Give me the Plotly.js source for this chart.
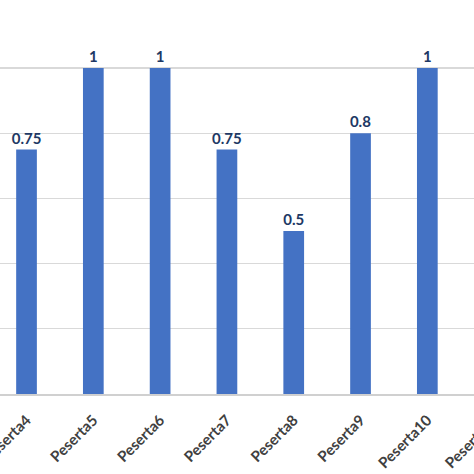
<!DOCTYPE html>
<html>
<head>
<meta charset="utf-8">
<script src="https://cdn.plot.ly/plotly-3.0.1.min.js"></script>
<style>html,body{margin:0;padding:0;background:#fff;overflow:hidden;width:474px;height:474px;}#chart{width:560px;height:474px;}</style>
</head>
<body>
<div id="chart"></div>
<script>
const categories = ["Peserta4","Peserta5","Peserta6","Peserta7","Peserta8","Peserta9","Peserta10","Peserta11"];
const values = [0.75, 1, 1, 0.75, 0.5, 0.8, 1, null];
const gridValues = [0.2, 0.4, 0.6, 0.8, 1.0];

const trace = {
  type: "bar",
  x: categories,
  y: values,
  width: 0.31,
  marker: {color: "#4472C4"},
  text: values.map(v => v === null ? "" : String(v)),
  textposition: "outside",
  constraintext: "none",
  cliponaxis: false,
  textfont: {family: "Lato, 'Open Sans', sans-serif", size: 15, color: "#203864", weight: "bold"},
  hoverinfo: "none"
};

const layout = {
  width: 560, height: 474,
  margin: {l: 0, r: 0, t: 0, b: 80},
  paper_bgcolor: "#ffffff",
  plot_bgcolor: "#ffffff",
  showlegend: false,
  xaxis: {
    type: "category",
    range: [-0.397, 7.986],
    tickangle: -45,
    ticks: "",
    ticklabelstandoff: 10,
    showline: true,
    linecolor: "#d0d0d0",
    linewidth: 1.5,
    showgrid: false,
    tickfont: {family: "Lato, 'Open Sans', sans-serif", size: 15, color: "#404040", weight: "bold"}
  },
  yaxis: {
    range: [0, 1.2086],
    tickvals: gridValues,
    showticklabels: false,
    showgrid: true,
    gridcolor: "#d9d9d9",
    gridwidth: 1.3,
    zeroline: false,
    showline: false,
    ticks: ""
  }
};

Plotly.newPlot("chart", [trace], layout, {staticPlot: true, displayModeBar: false});
</script>
</body>
</html>
